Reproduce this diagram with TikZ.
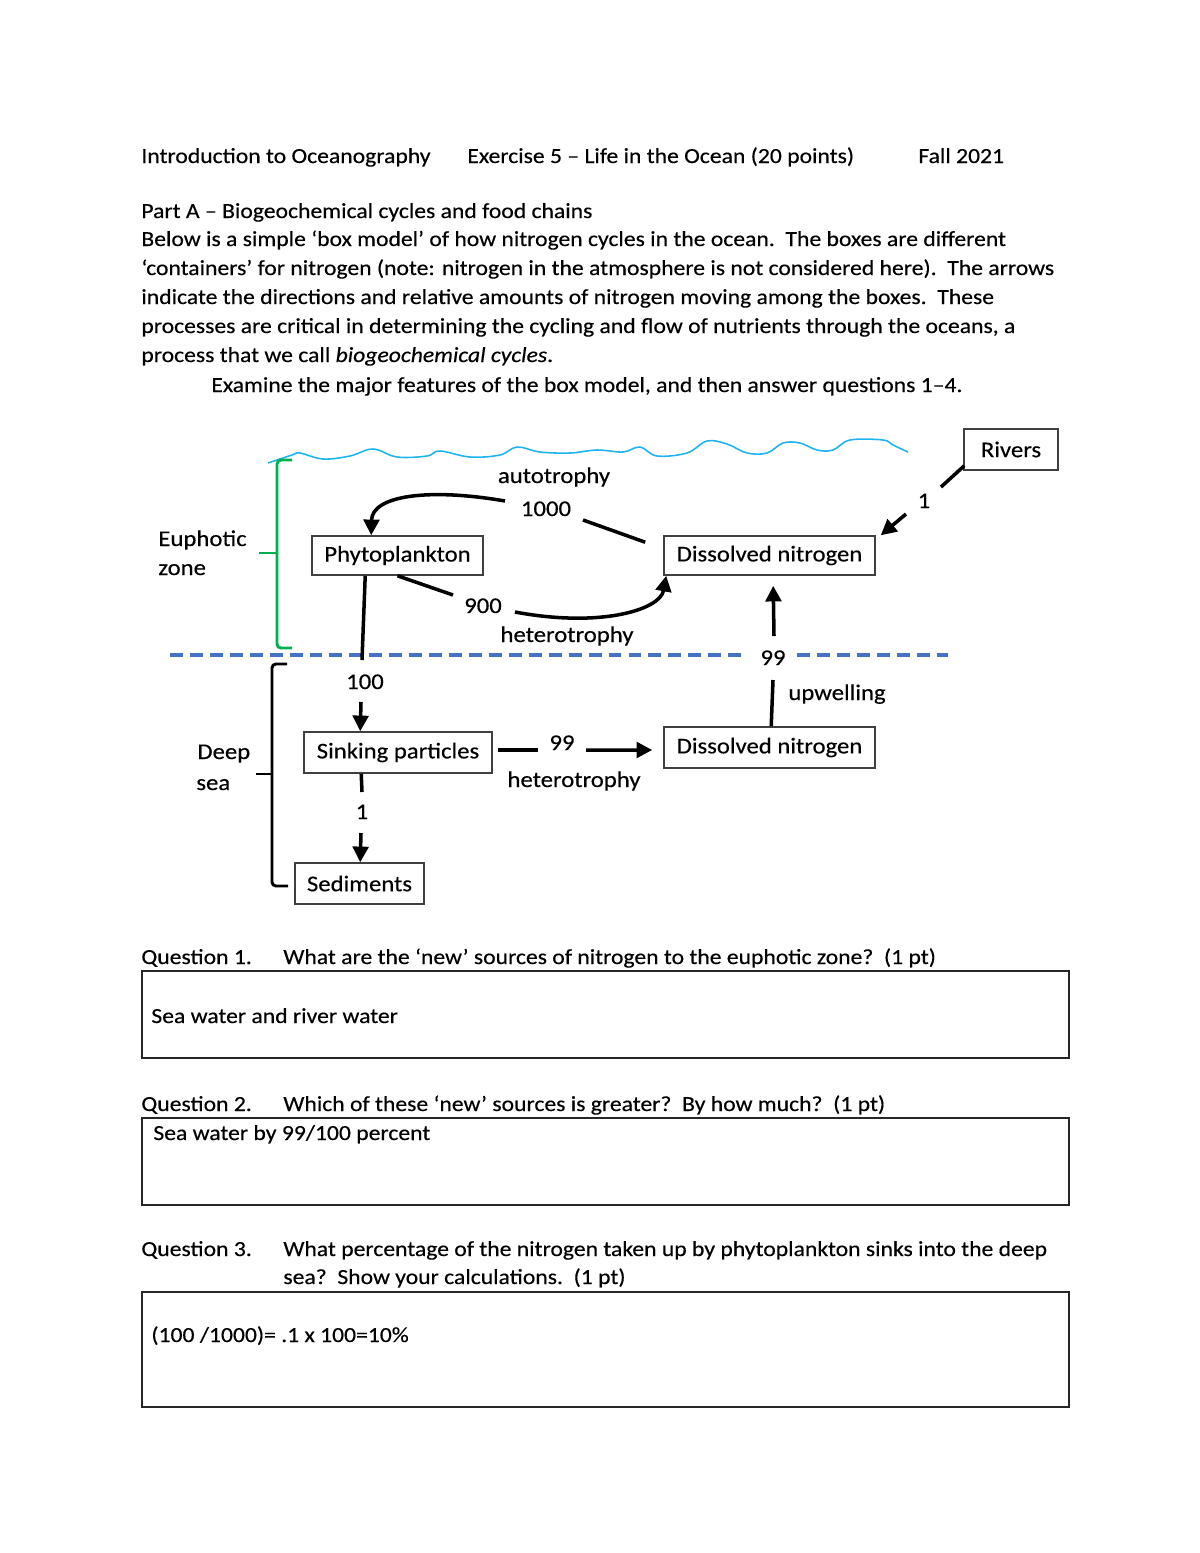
\documentclass[tikz,border=0pt]{standalone}
\usepackage{fontspec}
\setmainfont{Carlito}[FakeStretch=1.1,FakeBold=0.35]
\usetikzlibrary{arrows.meta,calc}
\def\pu{0.0070833in}
\definecolor{wave}{HTML}{1EB4F0}
\definecolor{zonegreen}{HTML}{00B050}
\definecolor{dashblue}{HTML}{4472C4}
\begin{document}
\begin{tikzpicture}[x=\pu,y=-\pu,
  txt/.style={anchor=base west,inner sep=0pt,font=\fontsize{11}{13}\selectfont},
  lbl/.style={anchor=base,inner sep=0pt,font=\fontsize{11.5}{13}\selectfont},
  lblw/.style={anchor=base west,inner sep=0pt,font=\fontsize{11.5}{13}\selectfont},
  boxn/.style={draw=black!75,line width=0.8pt,inner sep=0pt,font=\fontsize{11.5}{13}\selectfont},
  qbox/.style={draw=black!85,line width=1pt,inner sep=0pt,anchor=north west,minimum width=927*\pu},
  flow/.style={line width=1.8pt,black},
  tip/.style={-{Triangle[length=8pt,width=8pt]}},
  bracket/.style={line width=1.5pt,rounded corners=2pt}]
\useasboundingbox (0,0) rectangle (1200,1553);

% ---------- header text ----------
\node[txt] (h1) at (141,163) {Introduction to Oceanography};
\node[txt] (h2) at (467,163) {Exercise 5 – Life in the Ocean (20 points)};
\node[txt] (h3) at (918,163) {Fall 2021};
\node[txt] (p0) at (141,218) {Part A – Biogeochemical cycles and food chains};
\node[txt] (p1) at (141,246) {Below is a simple ‘box model’ of how nitrogen cycles in the ocean.\ \ The boxes are different};
\node[txt] (p2) at (141,275) {‘containers’ for nitrogen (note: nitrogen in the atmosphere is not considered here).\ \ The arrows};
\node[txt] (p3) at (141,304) {indicate the directions and relative amounts of nitrogen moving among the boxes.\ \ These};
\node[txt] (p4) at (141,333) {processes are critical in determining the cycling and flow of nutrients through the oceans, a};
\node[txt] (p5) at (141,362) {process that we call \textit{biogeochemical cycles}.};
\node[txt] (p6) at (211,392) {Examine the major features of the box model, and then answer questions 1–4.};

% ---------- sea surface ----------
\draw[wave,line width=0.8pt] plot[smooth,tension=0.6] coordinates {
 (268,463) (292,455) (300,453) (323,459) (350,456) (373,449) (397,457) (427,456)
 (440,451) (470,457) (500,455) (517,447) (540,452) (570,453) (597,450) (623,452)
 (640,447) (657,456) (687,453) (707,441) (727,444) (747,453) (767,453)
 (783,443) (800,443) (817,450) (833,450) (850,440) (883,440) (893,445) (908,452)};

% ---------- zone brackets ----------
\draw[zonegreen,bracket] (292,460) -- (277,460) -- (277,648) -- (292,648);
\draw[zonegreen,line width=1.5pt] (259,553) -- (277,553);
\node[lblw] (euph1) at (158,546) {Euphotic};
\node[lblw] (euph2) at (158,575) {zone};

\draw[black,bracket] (287,664) -- (272,664) -- (272,886) -- (288,886);
\draw[black,line width=1.5pt] (256,774) -- (272,774);
\node[lblw] (deep1) at (197,759) {Deep};
\node[lblw] (deep2) at (196,790) {sea};

% ---------- boundary ----------
\draw[dashblue,line width=2pt,dash pattern=on 6.6pt off 3.6pt] (170,655) -- (748,655);
\draw[dashblue,line width=2pt,dash pattern=on 6.6pt off 3.6pt] (797,655) -- (948,655);

% ---------- boxes ----------
\node[boxn,minimum width=171*\pu,minimum height=39*\pu] (phyto) at (397.5,555.5) {Phytoplankton};
\node[boxn,minimum width=211*\pu,minimum height=39*\pu] (dn1) at (769.5,555.5) {Dissolved nitrogen};
\node[boxn,minimum width=94*\pu,minimum height=41*\pu] (rivers) at (1011,449.5) {Rivers};
\node[boxn,minimum width=188*\pu,minimum height=41*\pu] (sink) at (398,752.5) {Sinking particles};
\node[boxn,minimum width=129*\pu,minimum height=41*\pu] (sed) at (359.5,883.5) {Sediments};
\node[boxn,minimum width=211*\pu,minimum height=41*\pu] (dn2) at (769.5,747.5) {Dissolved nitrogen};

% ---------- labels ----------
\node[lbl] (autot) at (554,483) {autotrophy};
\node[lbl] (n1000) at (546,516) {1000};
\node[lbl] (n900) at (483,613) {900};
\node[lbl] (het1) at (567,642) {heterotrophy};
\node[lbl] (n100) at (365,689) {100};
\node[lbl] (n99a) at (562,750) {99};
\node[lbl] (het2) at (574,787) {heterotrophy};
\node[lbl] (n1b) at (362,819) {1};
\node[lbl] (n99b) at (773,665) {99};
\node[lblw] (upw) at (788,700) {upwelling};
\node[lbl] (n1a) at (924,508) {1};

% ---------- connector free ends ----------
\coordinate (a2) at (583,520);
\coordinate (a3) at (505,501);
\coordinate (h2a) at (453,595);
\coordinate (h2b) at (515,612);
\coordinate (s1) at (362,660);
\coordinate (s2) at (361,702);
\coordinate (d1) at (362,792);
\coordinate (d2) at (361,833);
\coordinate (m1) at (538,750);
\coordinate (m2) at (586,750);
\coordinate (u1) at (773,680);
\coordinate (u2) at (774,636);
\coordinate (r1) at (941,487);
\coordinate (r2) at (906,514);

% ---------- flows ----------
% autotrophy
\draw[flow] ($(dn1.north west)+(-18,7)$) -- (a2);
\draw[flow,tip] (a3) .. controls (430,488) and (372,495) .. ($(phyto.north west)+(60,0)$);
% heterotrophy (euphotic)
\draw[flow] (phyto.south) -- (h2a);
\draw[flow,tip] (h2b) .. controls (600,628) and (660,610) .. ($(dn1.south west)+(3,0)$);
% export
\draw[flow] ($(phyto.south west)+(54,0)$) -- (s1);
\draw[flow,tip] (s2) -- ($(sink.north west)+(57,0)$);
% burial
\draw[flow] ($(sink.south west)+(58,0)$) -- (d1);
\draw[flow,tip] (d2) -- ($(sed.north west)+(66,0)$);
% deep heterotrophy
\draw[flow] ($(sink.east)+(5,-2.5)$) -- (m1);
\draw[flow,tip] (m2) -- ($(dn2.west)+(-11,2.5)$);
% upwelling
\draw[flow] ($(dn2.north west)+(108,0)$) -- (u1);
\draw[flow,tip] (u2) -- ($(dn1.south west)+(110,10)$);
% rivers
\draw[flow] ($(rivers.south west)+(1,-5)$) -- (r1);
\draw[flow,tip] (r2) -- ($(dn1.north east)+(5,0)$);

% ---------- questions ----------
\node[txt] (q1a) at (141,964) {Question 1.};
\node[txt] (q1b) at (283,964) {What are the ‘new’ sources of nitrogen to the euphotic zone?\ \ (1 pt)};
\node[qbox,minimum height=87*\pu] (q1box) at (141,970) {};
\node[txt] (q1ans) at (151,1023) {Sea water and river water};

\node[txt] (q2a) at (141,1111) {Question 2.};
\node[txt] (q2b) at (283,1111) {Which of these ‘new’ sources is greater?\ \ By how much?\ \ (1 pt)};
\node[qbox,minimum height=87*\pu] (q2box) at (141,1117) {};
\node[txt] (q2ans) at (153,1140) {Sea water by 99/100 percent};

\node[txt] (q3a) at (141,1256) {Question 3.};
\node[txt] (q3b) at (283,1256) {What percentage of the nitrogen taken up by phytoplankton sinks into the deep};
\node[txt] (q3c) at (283,1284) {sea?\ \ Show your calculations.\ \ (1 pt)};
\node[qbox,minimum height=115*\pu] (q3box) at (141,1291) {};
\node[txt] (q3ans) at (151,1342) {(100 /1000)= .1 x 100=10\%};
\end{tikzpicture}
\end{document}
